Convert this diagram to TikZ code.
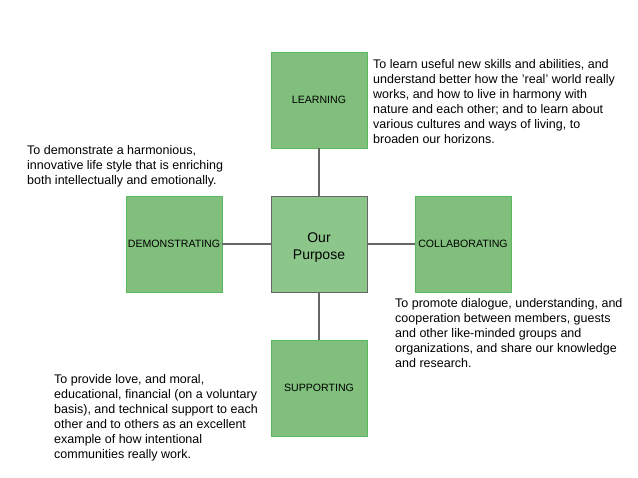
\documentclass[tikz,border=0pt]{standalone}
\usepackage{fontspec}
\setmainfont{Liberation Sans}
\definecolor{boxgreen}{HTML}{80BF7C}
\definecolor{boxline}{HTML}{5CB85C}
\definecolor{midgreen}{HTML}{8DC68A}
\definecolor{linkgray}{HTML}{666666}
\tikzset{
  outerbox/.style={draw=boxline,fill=boxgreen,minimum size=96pt,inner sep=0pt,font=\fontsize{10.6}{12}\selectfont},
  midbox/.style={draw=linkgray,fill=midgreen,minimum size=96pt,inner sep=0pt,align=center,font=\fontsize{14}{17}\selectfont},
  blurb/.style={anchor=north west,align=left,inner sep=0pt,font=\fontsize{12.5}{15}\selectfont},
  link/.style={draw=linkgray,line width=1.5pt}
}
\begin{document}
\begin{tikzpicture}[x=1pt,y=-1pt]
\useasboundingbox[fill=white] (0,0) rectangle (638,478);
% le centre
\node[midbox] (purpose) at (319,244) {\rule{0pt}{17pt}Our\\Purpose};
% les quatre cases
\foreach \n/\x/\y/\t in {learn/319/100/LEARNING,demo/174/244/DEMONSTRATING,collab/463/244/COLLABORATING,support/319/388/SUPPORTING}
    {\node[outerbox] (\n) at (\x,\y) {\t};}
% les liaisons
\foreach \n in {learn,demo,collab,support} \draw[link] (purpose)--(\n);
% les textes
\node[blurb] (learntext) at (373,59.5) {To learn useful new skills and abilities, and\\understand better how the 'real' world really\\works, and how to live in harmony with\\nature and each other; and to learn about\\various cultures and ways of living, to\\broaden our horizons.};
\node[blurb] (demotext) at (27,145) {To demonstrate a harmonious,\\innovative life style that is enriching\\both intellectually and emotionally.};
\node[blurb] (collabtext) at (395,298.5) {To promote dialogue, understanding, and\\cooperation between members, guests\\and other like-minded groups and\\organizations, and share our knowledge\\and research.};
\node[blurb] (supporttext) at (54,374.5) {To provide love, and moral,\\educational, financial (on a voluntary\\basis), and technical support to each\\other and to others as an excellent\\example of how intentional\\communities really work.};
\end{tikzpicture}
\end{document}
